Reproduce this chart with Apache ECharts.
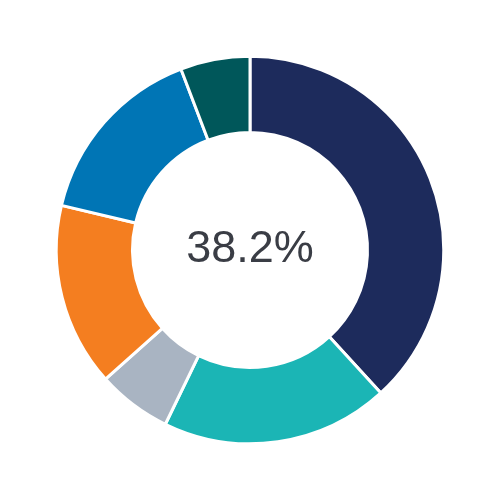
<!DOCTYPE html>
<html>
<head>
<meta charset="utf-8">
<style>
  html, body { margin: 0; padding: 0; background: #fff; }
  #chart { width: 500px; height: 500px; }
</style>
<script src="https://cdn.jsdelivr.net/npm/echarts@6/dist/echarts.min.js"></script>
</head>
<body>
<div id="chart"></div>
<script>
// slices, clockwise from 12 o'clock
var names = ['A', 'B', 'C', 'D', 'E', 'F'];
var values = [38.2, 19.0, 6.2, 15.3, 15.5, 5.8];
var colors = ['#1d2b5c', '#1bb5b5', '#a9b4c2', '#f47e20', '#0075b5', '#00575a'];
var centerLabel = '38.2%';

var chart = echarts.init(document.getElementById('chart'));

var pieData = names.map(function (n, i) {
    return { name: n, value: values[i], itemStyle: { color: colors[i] } };
});

chart.setOption({
    animation: false,
    title: {
        text: centerLabel,
        left: 'center',
        top: 'middle',
        textStyle: {
            fontFamily: 'Liberation Sans',
            fontSize: 45,
            fontWeight: 'normal',
            color: '#3a3d45'
        }
    },
    series: [{
        type: 'pie',
        center: ['50%', '50%'],
        radius: ['47%', '77.5%'],
        startAngle: 90,
        clockwise: true,
        label: { show: false },
        labelLine: { show: false },
        itemStyle: { borderColor: '#fff', borderWidth: 3 },
        data: pieData
    }]
});
</script>
</body>
</html>
